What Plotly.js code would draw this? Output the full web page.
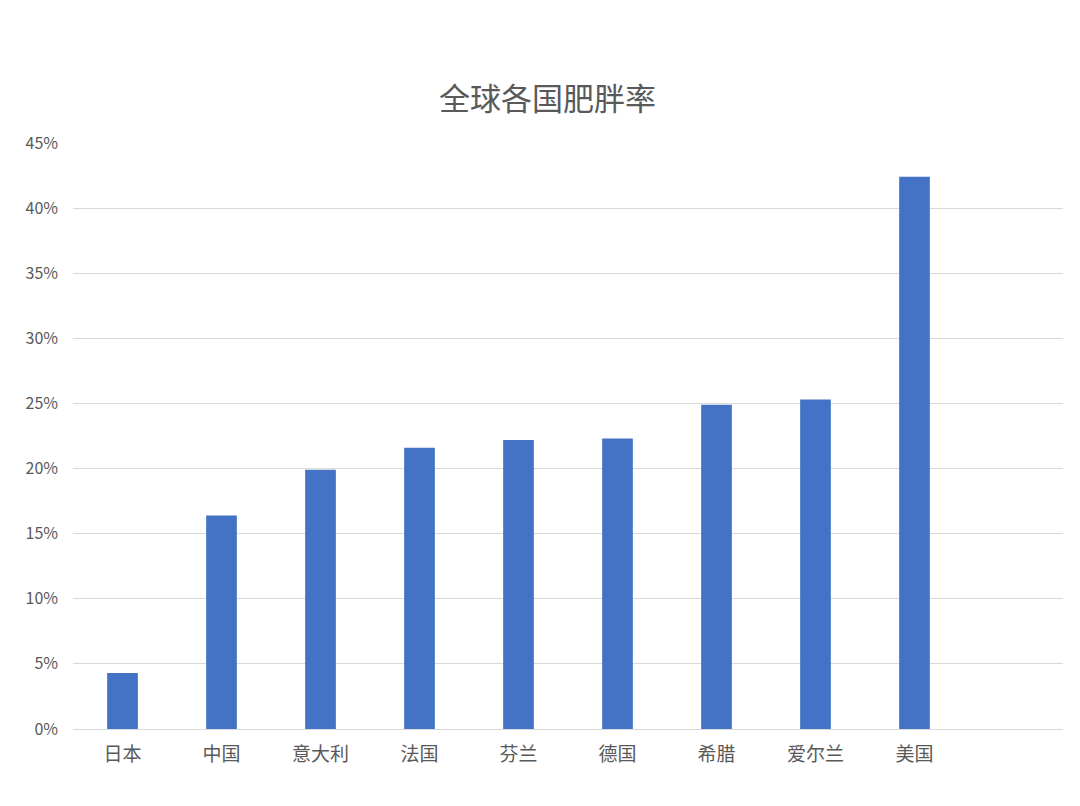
<!DOCTYPE html>
<html>
<head>
<meta charset="utf-8">
<script src="https://cdn.plot.ly/plotly-3.0.1.min.js"></script>
<style>
  html, body { margin: 0; padding: 0; background: #fff; }
  #chart { width: 1080px; height: 806px; }
</style>
</head>
<body>
<div id="chart"></div>
<script>
// country obesity rates
const countries = ['日本', '中国', '意大利', '法国', '芬兰', '德国', '希腊', '爱尔兰', '美国'];
const obesity_rate = [0.043, 0.164, 0.199, 0.216, 0.222, 0.223, 0.249, 0.253, 0.424];
const y_ticks = [0, 0.05, 0.10, 0.15, 0.20, 0.25, 0.30, 0.35, 0.40, 0.45];
const y_tick_labels = ['0%', '5%', '10%', '15%', '20%', '25%', '30%', '35%', '40%', '45%'];

const font_family = '"Noto Sans CJK SC", "Noto Sans", sans-serif';

const trace1 = {
    x: countries,
    y: obesity_rate,
    type: 'bar',
    marker: { color: '#4472C4' },
    hoverinfo: 'x+y'
};

const layout = {
    width: 1080,
    height: 806,
    margin: { l: 73, r: 17, t: 143, b: 77 },
    paper_bgcolor: '#ffffff',
    plot_bgcolor: '#ffffff',
    bargap: 0.69,
    showlegend: false,
    title: {
        text: '全球各国肥胖率',
        font: { family: font_family, size: 31, color: '#595959' },
        x: 0.507,
        xanchor: 'center',
        y: 0.877,
        yanchor: 'middle'
    },
    xaxis: {
        type: 'category',
        // one empty slot is left on the right, as in the original
        range: [-0.5, 9.5],
        showgrid: false,
        showline: true,
        linecolor: '#d9d9d9',
        linewidth: 1,
        ticks: '',
        ticklabelstandoff: 8,
        tickfont: { family: font_family, size: 19, color: '#595959' },
        fixedrange: true
    },
    yaxis: {
        range: [0, 0.45],
        tickvals: y_ticks,
        ticktext: y_tick_labels,
        showgrid: true,
        gridcolor: '#d9d9d9',
        gridwidth: 1,
        zeroline: true,
        zerolinecolor: '#d9d9d9',
        showline: false,
        ticks: '',
        ticklabelstandoff: 14,
        tickfont: { family: font_family, size: 16, color: '#595959' },
        fixedrange: true
    }
};

const config = { displayModeBar: false, responsive: false };

Plotly.newPlot('chart', [trace1], layout, config);
</script>
</body>
</html>
